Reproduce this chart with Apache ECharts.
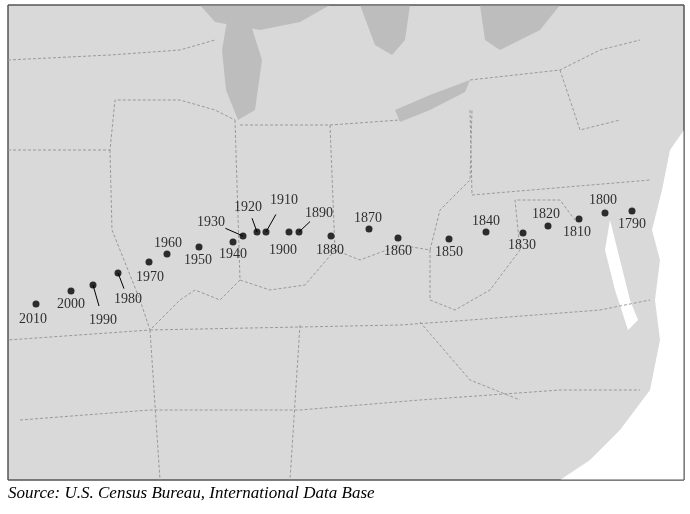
<!DOCTYPE html>
<html><head><meta charset="utf-8">
<script src="https://cdn.jsdelivr.net/npm/echarts@6/dist/echarts.min.js"></script>
<style>html,body{margin:0;background:#fff}#c{width:690px;height:514px}</style>
</head><body><div id="c"></div>
<script>
// mean center of population, positions (picture coords)
var years = ['1790','1800','1810','1820','1830','1840','1850','1860','1870','1880','1890','1900','1910','1920','1930','1940','1950','1960','1970','1980','1990','2000','2010'];
var xs = [632,605,579,548,523,486,449,398,369,331,299,289,266,257,243,233,199,167,149,118,93,71,36];
var ys = [211,213,219,226,233,232,239,238,229,236,232,232,232,232,236,242,247,254,262,273,285,291,304];
// label offsets [dx, dy]
var offs = [[0,13],[-2,-13],[-2,13],[-2,-12],[-1,12],[0,-11],[0,13],[0,13],[-1,-11],[-1,14],[20,-19],[-6,18],[18,-32],[-9,-25],[-32,-14],[0,12],[-1,13],[1,-11],[1,15],[10,26],[10,35],[0,13],[-3,15]];
var leaders = ['1890','1910','1920','1930','1980','1990'];

var chart = echarts.init(document.getElementById('c'));
var pts = years.map(function (y, i) {
  return {name: y, value: [xs[i], ys[i]],
    label: {offset: offs[i]}};
});
var lineData = [];
years.forEach(function (y, i) {
  if (leaders.indexOf(y) >= 0) {
    var dx = offs[i][0], dy = offs[i][1];
    var k = dy < 0 ? 0.55 : 0.6;
    lineData.push({coords: [[xs[i], ys[i]], [xs[i] + dx * k, ys[i] + dy * k]]});
  }
});
var land = '#d9d9d9', water = '#bdbdbd';
var dash = {stroke: '#9a9a9a', lineWidth: 1, lineDash: [3, 2], fill: null};
function poly(p, style) { return {type: 'polyline', shape: {points: p}, style: style, silent: true}; }
function gon(p, fill) { return {type: 'polygon', shape: {points: p}, style: {fill: fill}, silent: true}; }
chart.setOption({
  animation: false,
  grid: {left: 0, right: 0, top: 0, bottom: 0},
  xAxis: {type: 'value', min: 0, max: 690, show: false},
  yAxis: {type: 'value', min: 0, max: 514, inverse: true, show: false},
  graphic: [
    {type: 'rect', shape: {x: 8, y: 5, width: 676, height: 475}, style: {fill: land, stroke: '#555', lineWidth: 1}, z: -10},
    // Lake Superior / Huron / Michigan / Erie
    gon([[200,5],[330,5],[300,22],[260,30],[215,22]], water),
    gon([[228,15],[250,22],[262,60],[255,110],[238,120],[226,90],[222,50]], water),
    gon([[360,5],[410,5],[405,40],[392,55],[375,45]], water),
    gon([[395,110],[430,95],[470,80],[465,92],[430,110],[400,122]], water),
    gon([[480,5],[560,5],[540,30],[500,50],[485,40]], water),
    // Atlantic
    gon([[684,130],[684,480],[560,480],[590,460],[620,430],[650,390],[660,340],[655,300],[660,260],[652,230],[662,190],[670,150]], '#ffffff'),
    gon([[610,220],[620,260],[630,300],[638,320],[628,330],[615,290],[605,250]], '#ffffff'),
    gon([[640,200],[652,230],[648,270],[640,250],[636,215]], land),
    {type: 'rect', shape: {x: 8, y: 5, width: 676, height: 475}, style: {fill: null, stroke: '#555', lineWidth: 1}},
    // state boundaries (approximate)
    poly([[8,60],[110,55],[180,50],[215,40]], dash),
    poly([[8,150],[110,150],[115,100],[180,100],[215,110],[235,120]], dash),
    poly([[110,150],[112,230],[140,300],[150,330],[8,340]], dash),
    poly([[150,330],[400,325],[470,320],[600,310],[650,300]], dash),
    poly([[20,420],[150,410],[300,410],[420,400],[560,390],[640,390]], dash),
    poly([[235,120],[240,280],[220,300],[195,290],[180,300],[150,330]], dash),
    poly([[240,125],[330,125],[335,250],[305,285],[270,290],[240,280]], dash),
    poly([[330,125],[400,120]], dash),
    poly([[335,250],[360,260],[400,245],[430,250],[440,210],[470,180],[472,110]], dash),
    poly([[470,110],[472,195],[650,180]], dash),
    poly([[470,80],[560,70],[600,50],[640,40]], dash),
    poly([[560,70],[580,130],[620,120]], dash),
    poly([[430,250],[430,300],[455,310],[490,290],[520,250],[515,200],[560,200],[575,220]], dash),
    poly([[150,330],[160,480]], dash),
    poly([[300,325],[290,480]], dash),
    poly([[420,322],[470,380],[520,400]], dash),
    {type: 'text', left: 8, top: 485, style: {text: 'Source: U.S. Census Bureau, International Data Base', font: 'italic 17px "Liberation Serif", serif', fill: '#000'}}
  ],
  series: [
    {type: 'lines', coordinateSystem: 'cartesian2d', data: lineData, silent: true,
     lineStyle: {color: '#000', width: 1, opacity: 1}},
    {type: 'scatter', data: pts, symbolSize: 7, itemStyle: {color: '#000'},
     label: {show: true, formatter: '{b}', color: '#000', fontFamily: 'Liberation Serif', fontSize: 14},
     z: 5}
  ]
});
</script></body></html>
